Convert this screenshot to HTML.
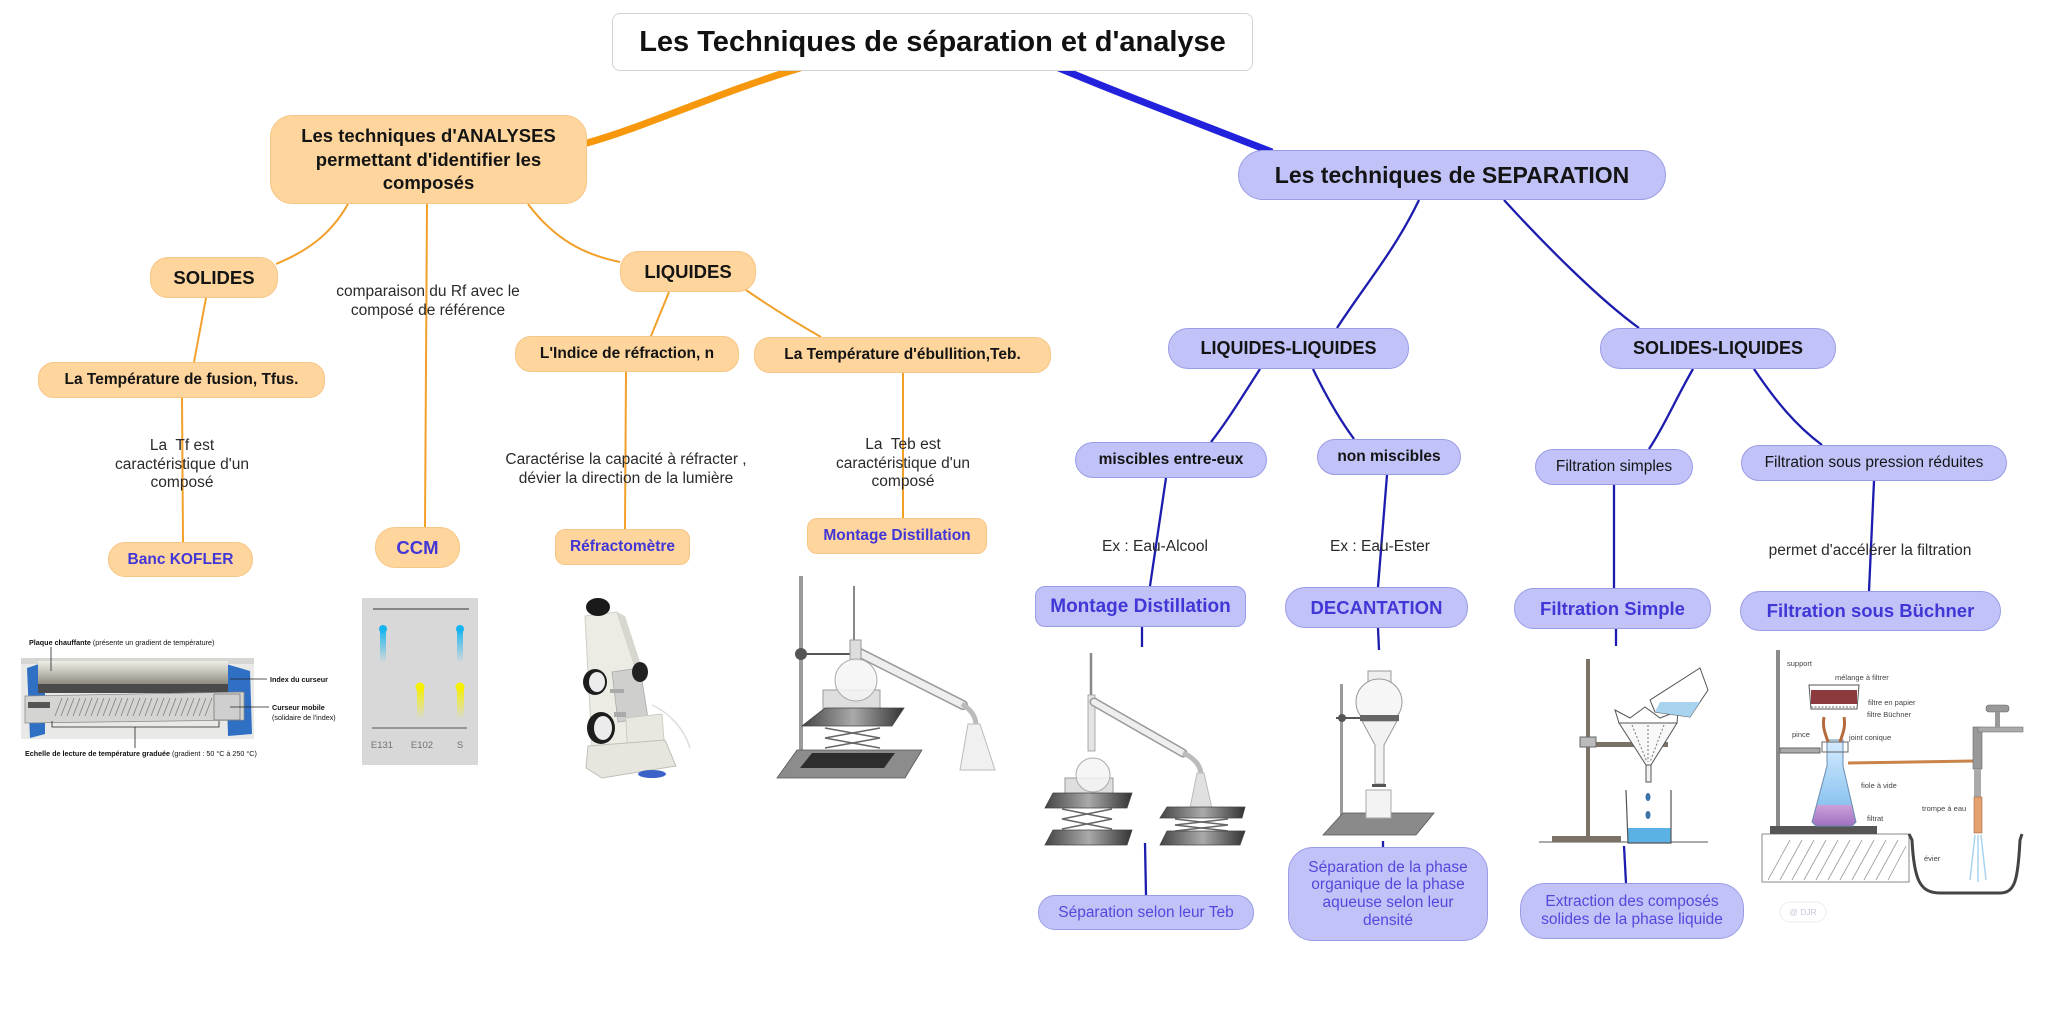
<!DOCTYPE html>
<html><head><meta charset="utf-8">
<style>
html,body{margin:0;padding:0;background:#fff;}
body{width:2048px;height:1034px;position:relative;overflow:hidden;font-family:"Liberation Sans",Arial,sans-serif;}
svg{position:absolute;left:0;top:0;}
.n{position:absolute;box-sizing:border-box;display:flex;align-items:center;justify-content:center;text-align:center;white-space:nowrap;}
.o{background:#fed59c;border:1px solid #f6c687;color:#141414;font-weight:bold;}
.l{background:#c1c3f8;border:1px solid #9a9ce6;color:#141414;}
.b{color:#4136d6;font-weight:bold;}
.bl{color:#5248dc;font-weight:normal;}
.lab{position:absolute;text-align:center;color:#2a2a2a;font-size:15.5px;line-height:18.5px;white-space:nowrap;transform:translateX(-50%);}
</style></head><body>
<svg width="2048" height="1034" viewBox="0 0 2048 1034" xmlns="http://www.w3.org/2000/svg">
<defs>
<linearGradient id="silver" x1="0" y1="0" x2="0" y2="1"><stop offset="0" stop-color="#efefe8"/><stop offset="0.6" stop-color="#b8b6aa"/><stop offset="1" stop-color="#8d8b80"/></linearGradient>
<linearGradient id="plate" x1="0" y1="0" x2="1" y2="0"><stop offset="0" stop-color="#444"/><stop offset="0.5" stop-color="#aaa"/><stop offset="1" stop-color="#333"/></linearGradient>
<linearGradient id="bt" x1="0" y1="0" x2="0" y2="1"><stop offset="0" stop-color="#19b6f0"/><stop offset="1" stop-color="#d8d8d8"/></linearGradient>
<linearGradient id="yt" x1="0" y1="0" x2="0" y2="1"><stop offset="0" stop-color="#f6f000"/><stop offset="1" stop-color="#d8d8d8"/></linearGradient>
<linearGradient id="flask" x1="0" y1="0" x2="0" y2="1"><stop offset="0" stop-color="#d6ecff"/><stop offset="0.75" stop-color="#8cc4f0"/><stop offset="0.76" stop-color="#c9a0d8"/><stop offset="1" stop-color="#a070c0"/></linearGradient>
</defs>

<!-- thick connectors -->
<path d="M587,143 C650,125 720,92 800,68 L840,52" fill="none" stroke="#f7980c" stroke-width="7" stroke-linecap="round"/>
<path d="M1040,60 C1110,90 1190,120 1272,152" fill="none" stroke="#2222dc" stroke-width="7"/>

<!-- orange thin connectors -->
<g fill="none" stroke="#f2a02a" stroke-width="2">
<path d="M348,204 C330,236 305,252 276,264"/>
<path d="M427,204 L425,527"/>
<path d="M528,204 C555,240 585,255 620,262"/>
<path d="M206,298 L194,362"/>
<path d="M182,398 L183,542"/>
<path d="M669,292 L651,336"/>
<path d="M746,290 C775,310 800,325 821,337"/>
<path d="M626,372 L625,529"/>
<path d="M903,373 L903,518"/>
</g>
<!-- blue thin connectors -->
<g fill="none" stroke="#1c1cae" stroke-width="2.3">
<path d="M1419,200 C1395,250 1365,285 1337,328"/>
<path d="M1504,200 C1545,245 1600,300 1639,328"/>
<path d="M1260,369 C1240,400 1228,420 1211,442"/>
<path d="M1313,369 C1328,400 1340,420 1354,439"/>
<path d="M1693,369 C1675,400 1665,425 1649,449"/>
<path d="M1754,369 C1775,400 1795,425 1822,445"/>
<path d="M1166,478 L1150,586"/>
<path d="M1142,627 L1142,647"/>
<path d="M1145,843 L1146,895"/>
<path d="M1387,475 L1378,587"/>
<path d="M1378,628 L1379,650"/>
<path d="M1383,841 L1383,847"/>
<path d="M1614,485 L1614,588"/>
<path d="M1616,629 L1616,646"/>
<path d="M1624,846 L1626,883"/>
<path d="M1874,481 L1869,591"/>
</g>

<!-- Kofler photo -->
<g>
<rect x="21" y="658" width="233" height="81" fill="#e9e9e7"/>
<rect x="21" y="658" width="233" height="6" fill="#d6d6d2"/>
<path d="M27,668 L45,662 L45,734 L30,738 Z" fill="#2f6fc4"/>
<path d="M226,664 L250,671 L252,734 L228,736 Z" fill="#2f6fc4"/>
<rect x="38" y="661" width="190" height="23" fill="url(#silver)"/>
<rect x="38" y="684" width="190" height="9" fill="#4a4a4a"/>
<polygon points="25,696 244,692 244,720 25,723" fill="#d4d4d2" stroke="#8a8a8a" stroke-width="0.8"/>
<g stroke="#777" stroke-width="0.7">
<line x1="55" y1="716" x2="62" y2="698"/><line x1="61" y1="716" x2="68" y2="698"/><line x1="67" y1="716" x2="74" y2="698"/><line x1="73" y1="716" x2="80" y2="698"/><line x1="79" y1="716" x2="86" y2="698"/><line x1="85" y1="716" x2="92" y2="698"/><line x1="91" y1="716" x2="98" y2="698"/><line x1="97" y1="716" x2="104" y2="698"/><line x1="103" y1="716" x2="110" y2="698"/><line x1="109" y1="716" x2="116" y2="698"/><line x1="115" y1="716" x2="122" y2="698"/><line x1="121" y1="716" x2="128" y2="698"/><line x1="127" y1="716" x2="134" y2="698"/><line x1="133" y1="716" x2="140" y2="698"/><line x1="139" y1="716" x2="146" y2="698"/><line x1="145" y1="716" x2="152" y2="698"/><line x1="151" y1="716" x2="158" y2="698"/><line x1="157" y1="716" x2="164" y2="698"/><line x1="163" y1="716" x2="170" y2="698"/><line x1="169" y1="716" x2="176" y2="698"/><line x1="175" y1="716" x2="182" y2="698"/><line x1="181" y1="716" x2="188" y2="698"/><line x1="187" y1="716" x2="194" y2="698"/><line x1="193" y1="716" x2="200" y2="698"/><line x1="199" y1="716" x2="206" y2="698"/><line x1="205" y1="716" x2="212" y2="698"/>
</g>
<rect x="28" y="702" width="22" height="6" fill="#555"/>
<rect x="214" y="694" width="26" height="26" fill="#cfcfcf" stroke="#777" stroke-width="0.8"/>
<g stroke="#222" stroke-width="0.8" fill="none">
<line x1="51" y1="647" x2="51" y2="671"/>
<line x1="230" y1="679" x2="267" y2="679"/>
<line x1="230" y1="707" x2="269" y2="707"/>
<polyline points="52,721 52,727 219,727 219,721"/>
<line x1="135" y1="727" x2="135" y2="748"/>
</g>
<g font-family="Liberation Sans,Arial,sans-serif" font-size="7.2" fill="#111">
<text x="29" y="645"><tspan font-weight="bold">Plaque chauffante</tspan> (présente un gradient de température)</text>
<text x="270" y="682" font-weight="bold">Index du curseur</text>
<text x="272" y="710" font-weight="bold">Curseur mobile</text>
<text x="272" y="720">(solidaire de l'index)</text>
<text x="25" y="756"><tspan font-weight="bold">Echelle de lecture de température graduée</tspan> (gradient : 50 °C à 250 °C)</text>
</g>
</g>

<!-- CCM plate -->
<g>
<rect x="362" y="598" width="116" height="167" fill="#d8d8d8"/>
<line x1="373" y1="609" x2="469" y2="609" stroke="#555" stroke-width="1.2"/>
<rect x="380" y="629" width="6" height="34" fill="url(#bt)"/>
<rect x="457" y="629" width="6" height="34" fill="url(#bt)"/>
<circle cx="383" cy="629" r="4" fill="#17b4f0"/>
<circle cx="460" cy="629" r="4" fill="#17b4f0"/>
<rect x="417" y="687" width="7" height="32" fill="url(#yt)"/>
<rect x="457" y="687" width="7" height="32" fill="url(#yt)"/>
<circle cx="420" cy="687" r="4.5" fill="#f6f000"/>
<circle cx="460" cy="687" r="4.5" fill="#f6f000"/>
<line x1="372" y1="728" x2="467" y2="728" stroke="#555" stroke-width="1"/>
<g font-family="Liberation Sans,Arial,sans-serif" font-size="9.5" fill="#707070" text-anchor="middle">
<text x="382" y="748">E131</text><text x="422" y="748">E102</text><text x="460" y="748">S</text>
</g>
</g>

<!-- Refractometer -->
<g>
<path d="M585,616 L617,612 L636,670 L648,720 L630,745 L592,748 Z" fill="#ecebe4" stroke="#cfcec6" stroke-width="1"/>
<path d="M617,612 L625,616 L642,668 L636,670 Z" fill="#d8d7cf"/>
<ellipse cx="598" cy="607" rx="12" ry="9" fill="#1a1a1a"/>
<path d="M612,672 L640,668 L648,718 L618,722 Z" fill="#cfcfcd" stroke="#aaa" stroke-width="0.8"/>
<path d="M626,718 L662,714 L666,765 L628,768 Z" fill="#e8e7e0" stroke="#c8c7c0" stroke-width="0.8"/>
<path d="M588,746 L665,740 L676,766 L602,778 L586,768 Z" fill="#e6e5de" stroke="#c0bfb8" stroke-width="1"/>
<ellipse cx="652" cy="774" rx="14" ry="4" fill="#3a62c8"/>
<ellipse cx="640" cy="672" rx="8" ry="10" fill="#222"/>
<ellipse cx="595" cy="682" rx="12" ry="13" fill="#1d1d1d"/>
<ellipse cx="597" cy="682" rx="8" ry="10" fill="#ececec"/>
<ellipse cx="601" cy="728" rx="14" ry="16" fill="#1d1d1d"/>
<ellipse cx="603" cy="728" rx="9" ry="12" fill="#ececec"/>
<rect x="610" y="689" width="14" height="4" fill="#aaa"/>
<rect x="614" y="712" width="12" height="5" fill="#aaa"/>
<path d="M652,705 C668,712 684,728 690,748" fill="none" stroke="#ddd" stroke-width="1.5"/>
</g>

<!-- Distillation left -->
<g>
<rect x="799" y="576" width="4" height="196" fill="#9a9a9a"/>
<line x1="795" y1="654" x2="858" y2="654" stroke="#555" stroke-width="2"/>
<circle cx="801" cy="654" r="6" fill="#555"/>
<line x1="854" y1="586" x2="854" y2="640" stroke="#888" stroke-width="2"/>
<path d="M858,652 L963,705" stroke="#999" stroke-width="10" stroke-linecap="round"/>
<path d="M858,652 L963,705" stroke="#eee" stroke-width="7" stroke-linecap="round"/>
<path d="M962,704 Q975,712 976,724" fill="none" stroke="#bbb" stroke-width="5"/>
<rect x="850" y="640" width="11" height="20" fill="#ddd" stroke="#999"/>
<rect x="823" y="690" width="57" height="30" fill="#dedede" stroke="#999"/>
<circle cx="856" cy="680" r="21" fill="#f5f5f5" fill-opacity="0.85" stroke="#aaa"/>
<polygon points="802,726 825,708 904,708 892,726" fill="url(#plate)" stroke="#444" stroke-width="0.8"/>
<g stroke="#666" stroke-width="1.5" fill="none"><path d="M825,728 L880,738 L825,748"/><path d="M880,728 L825,738 L880,748"/></g>
<polygon points="777,778 797,750 922,750 905,778" fill="#8c8c8c" stroke="#555" stroke-width="0.8"/>
<polygon points="800,768 812,753 895,753 884,768" fill="#2d2d2d"/>
<polygon points="968,724 980,724 995,770 960,770" fill="#f0f0f0" stroke="#bbb"/>
</g>

<!-- Distillation right -->
<g>
<line x1="1091" y1="653" x2="1091" y2="696" stroke="#888" stroke-width="2.5"/>
<rect x="1088" y="695" width="7" height="56" fill="#e4e4e4" stroke="#999" stroke-width="0.8"/>
<path d="M1094,702 L1183,753" stroke="#999" stroke-width="9" stroke-linecap="round"/>
<path d="M1094,702 L1183,753" stroke="#eee" stroke-width="6" stroke-linecap="round"/>
<path d="M1183,753 Q1199,760 1201,773" fill="none" stroke="#bbb" stroke-width="5"/>
<rect x="1065" y="778" width="48" height="20" fill="#dedede" stroke="#999"/>
<circle cx="1093" cy="775" r="17" fill="#f5f5f5" fill-opacity="0.85" stroke="#aaa"/>
<polygon points="1045,808 1053,793 1132,793 1127,808" fill="url(#plate)" stroke="#444" stroke-width="0.8"/>
<g stroke="#666" stroke-width="1.5" fill="none"><path d="M1062,809 L1112,819 L1062,829"/><path d="M1112,809 L1062,819 L1112,829"/></g>
<polygon points="1045,845 1053,830 1132,830 1127,845" fill="url(#plate)" stroke="#444" stroke-width="0.8"/>
<polygon points="1197,773 1204,773 1213,813 1189,813" fill="#e0e0e0" stroke="#bbb"/>
<polygon points="1160,818 1167,807 1245,807 1242,818" fill="url(#plate)" stroke="#444" stroke-width="0.8"/>
<g stroke="#666" stroke-width="1.5" fill="none"><path d="M1175,819 L1228,825 L1175,831"/><path d="M1228,819 L1175,825 L1228,831"/></g>
<polygon points="1160,845 1167,831 1245,831 1240,845" fill="url(#plate)" stroke="#444" stroke-width="0.8"/>
</g>

<!-- Decantation -->
<g>
<rect x="1340" y="684" width="3" height="136" fill="#9a9a9a"/>
<polygon points="1323,835 1343,813 1434,813 1416,835" fill="#8a8a8a" stroke="#555" stroke-width="0.8"/>
<line x1="1336" y1="718" x2="1398" y2="718" stroke="#555" stroke-width="2"/>
<circle cx="1342" cy="718" r="4" fill="#555"/>
<rect x="1368" y="671" width="23" height="13" fill="#eee" stroke="#999"/>
<circle cx="1379" cy="702" r="23" fill="#f6f6f6" stroke="#999"/>
<polygon points="1362,721 1397,721 1384,745 1384,784 1375,784 1375,745" fill="#f2f2f2" stroke="#999"/>
<rect x="1360" y="715" width="39" height="6" fill="#666"/>
<rect x="1372" y="784" width="14" height="3" fill="#555"/>
<rect x="1366" y="790" width="25" height="28" fill="#f3f3f3" stroke="#aaa"/>
</g>

<!-- Filtration simple -->
<g>
<line x1="1539" y1="842" x2="1708" y2="842" stroke="#777" stroke-width="1.2"/>
<rect x="1552" y="836" width="69" height="6" fill="#7a7266"/>
<rect x="1586" y="659" width="4" height="179" fill="#7a7266"/>
<rect x="1580" y="737" width="16" height="10" fill="#bbb" stroke="#666"/>
<rect x="1596" y="742" width="72" height="5" fill="#7a7266"/>
<polygon points="1619,723 1677,723 1651,765 1646,765" fill="#f8f8f8" stroke="#555"/>
<polygon points="1615,710 1630,718 1645,707 1660,718 1678,711 1677,723 1619,723" fill="#fff" stroke="#555"/>
<g stroke="#777" stroke-dasharray="2,2"><line x1="1632" y1="725" x2="1647" y2="762"/><line x1="1648" y1="725" x2="1648" y2="762"/><line x1="1664" y1="725" x2="1650" y2="762"/></g>
<rect x="1646" y="765" width="5" height="17" fill="#f2f2f2" stroke="#555"/>
<ellipse cx="1648" cy="797" rx="2.5" ry="4" fill="#3b74a8"/>
<ellipse cx="1648" cy="815" rx="2.5" ry="4" fill="#3b74a8"/>
<rect x="1628" y="828" width="43" height="15" fill="#5ab2e4"/>
<path d="M1626,790 L1628,843 L1671,843 L1671,790" fill="none" stroke="#555" stroke-width="1.2"/>
<polygon points="1650,700 1700,668 1708,690 1690,717 1655,712" fill="#fff" stroke="#555"/>
<polygon points="1655,712 1690,717 1700,702 1660,702" fill="#a8d4f0"/>
</g>

<!-- Buchner -->
<g font-family="Liberation Sans,Arial,sans-serif" font-size="7.5" fill="#444">
<rect x="1776" y="650" width="4" height="178" fill="#8a8a8a"/>
<rect x="1762" y="834" width="147" height="48" fill="#fff" stroke="#888"/>
<g stroke="#999" stroke-width="0.8"><line x1="1768" y1="880" x2="1790" y2="840"/><line x1="1780" y1="880" x2="1802" y2="840"/><line x1="1792" y1="880" x2="1814" y2="840"/><line x1="1804" y1="880" x2="1826" y2="840"/><line x1="1816" y1="880" x2="1838" y2="840"/><line x1="1828" y1="880" x2="1850" y2="840"/><line x1="1840" y1="880" x2="1862" y2="840"/><line x1="1852" y1="880" x2="1874" y2="840"/><line x1="1864" y1="880" x2="1886" y2="840"/><line x1="1876" y1="880" x2="1898" y2="840"/><line x1="1888" y1="880" x2="1906" y2="846"/></g>
<rect x="1770" y="826" width="107" height="8" fill="#555"/>
<path d="M1909,834 L1912,840 C1914,880 1920,893 1940,893 L2000,893 C2015,893 2018,880 2020,840 L2022,834" fill="none" stroke="#444" stroke-width="3"/>
<polygon points="1827,740 1843,740 1843,766 1856,822 1852,826 1816,826 1812,822 1827,766" fill="url(#flask)" stroke="#6a8cb0"/>
<rect x="1780" y="748" width="40" height="5" fill="#aaa" stroke="#666"/>
<rect x="1822" y="742" width="26" height="10" fill="none" stroke="#666"/>
<path d="M1824,717 C1822,728 1826,735 1828,742" fill="none" stroke="#b46a3c" stroke-width="3"/>
<path d="M1844,717 C1846,728 1842,735 1840,742" fill="none" stroke="#b46a3c" stroke-width="3"/>
<path d="M1809,685 L1859,685 L1857,709 L1811,709 Z" fill="#fff" stroke="#555"/>
<rect x="1811" y="690" width="46" height="14" fill="#8c3a3e"/>
<line x1="1811" y1="707" x2="1857" y2="707" stroke="#666" stroke-dasharray="2,1.5"/>
<line x1="1848" y1="763" x2="1973" y2="761" stroke="#c8844a" stroke-width="3"/>
<rect x="1973" y="727" width="9" height="42" fill="#999" stroke="#666" stroke-width="0.6"/>
<rect x="1978" y="727" width="45" height="5" fill="#aaa" stroke="#777" stroke-width="0.6"/>
<rect x="1986" y="705" width="23" height="7" rx="3" fill="#999" stroke="#666" stroke-width="0.6"/>
<rect x="1995" y="712" width="5" height="15" fill="#999"/>
<rect x="1974" y="769" width="7" height="28" fill="#aaa"/>
<rect x="1974" y="797" width="8" height="36" fill="#e4a070" stroke="#a06a40" stroke-width="0.6"/>
<path d="M1975,835 L1970,880 M1978,835 L1978,882 M1981,835 L1986,880" stroke="#a8d4f0" stroke-width="1.5"/>
<text x="1787" y="666">support</text>
<text x="1835" y="680">mélange à filtrer</text>
<text x="1868" y="705">filtre en papier</text>
<text x="1867" y="717">filtre Büchner</text>
<text x="1792" y="737">pince</text>
<text x="1849" y="740">joint conique</text>
<text x="1861" y="788">fiole à vide</text>
<text x="1922" y="811">trompe à eau</text>
<text x="1867" y="821">filtrat</text>
<text x="1924" y="861">évier</text>
<rect x="1780" y="902" width="46" height="20" rx="10" fill="#fff" stroke="#eee"/>
<text x="1803" y="915" text-anchor="middle" fill="#c8c8d8" font-size="8.5">@ DJR</text>
</g>
</svg>

<!-- Title -->
<div class="n" style="left:612px;top:13px;width:641px;height:58px;border:1px solid #d4d4d4;border-radius:8px;background:#fff;font-size:29px;font-weight:bold;color:#111;">Les Techniques de séparation et d'analyse</div>

<!-- orange nodes -->
<div class="n o" style="left:270px;top:115px;width:317px;height:89px;border-radius:22px;font-size:18.5px;line-height:23.5px;">Les techniques d'ANALYSES<br>permettant d'identifier les<br>composés</div>
<div class="n o" style="left:150px;top:257px;width:128px;height:41px;border-radius:18px;font-size:18.5px;">SOLIDES</div>
<div class="n o" style="left:620px;top:251px;width:136px;height:41px;border-radius:18px;font-size:18.5px;">LIQUIDES</div>
<div class="n o" style="left:38px;top:362px;width:287px;height:36px;border-radius:16px;font-size:15.5px;">La Température de fusion, Tfus.</div>
<div class="n o" style="left:515px;top:336px;width:224px;height:36px;border-radius:16px;font-size:15.5px;">L'Indice de réfraction, n</div>
<div class="n o" style="left:754px;top:337px;width:297px;height:36px;border-radius:16px;font-size:15.5px;">La Température d'ébullition,Teb.</div>
<div class="n o b" style="left:108px;top:542px;width:145px;height:35px;border-radius:17px;font-size:15.5px;">Banc KOFLER</div>
<div class="n o b" style="left:375px;top:527px;width:85px;height:41px;border-radius:20px;font-size:18.5px;">CCM</div>
<div class="n o b" style="left:555px;top:529px;width:135px;height:36px;border-radius:10px;font-size:15.5px;">Réfractomètre</div>
<div class="n o b" style="left:807px;top:518px;width:180px;height:36px;border-radius:10px;font-size:15.5px;">Montage Distillation</div>

<!-- lavender nodes -->
<div class="n l" style="left:1238px;top:150px;width:428px;height:50px;border-radius:25px;font-size:23px;font-weight:bold;">Les techniques de SEPARATION</div>
<div class="n l" style="left:1168px;top:328px;width:241px;height:41px;border-radius:20px;font-size:18px;font-weight:bold;">LIQUIDES-LIQUIDES</div>
<div class="n l" style="left:1600px;top:328px;width:236px;height:41px;border-radius:20px;font-size:18px;font-weight:bold;">SOLIDES-LIQUIDES</div>
<div class="n l" style="left:1075px;top:442px;width:192px;height:36px;border-radius:18px;font-size:15.5px;font-weight:bold;">miscibles entre-eux</div>
<div class="n l" style="left:1317px;top:439px;width:144px;height:36px;border-radius:18px;font-size:15.5px;font-weight:bold;">non miscibles</div>
<div class="n l" style="left:1535px;top:449px;width:158px;height:36px;border-radius:18px;font-size:15.5px;">Filtration simples</div>
<div class="n l" style="left:1741px;top:445px;width:266px;height:36px;border-radius:18px;font-size:15.5px;">Filtration sous pression réduites</div>
<div class="n l b" style="left:1035px;top:586px;width:211px;height:41px;border-radius:10px;font-size:19px;">Montage Distillation</div>
<div class="n l b" style="left:1285px;top:587px;width:183px;height:41px;border-radius:20px;font-size:18.5px;">DECANTATION</div>
<div class="n l b" style="left:1514px;top:588px;width:197px;height:41px;border-radius:20px;font-size:18.5px;">Filtration Simple</div>
<div class="n l b" style="left:1740px;top:591px;width:261px;height:40px;border-radius:20px;font-size:18.5px;">Filtration sous Büchner</div>
<div class="n l bl" style="left:1038px;top:895px;width:216px;height:35px;border-radius:17px;font-size:15.5px;">Séparation selon leur Teb</div>
<div class="n l bl" style="left:1288px;top:847px;width:200px;height:94px;border-radius:25px;font-size:15.5px;line-height:17.7px;">Séparation de la phase<br>organique de la phase<br>aqueuse selon leur<br>densité</div>
<div class="n l bl" style="left:1520px;top:883px;width:224px;height:56px;border-radius:25px;font-size:15.5px;line-height:18px;">Extraction des composés<br>solides de la phase liquide</div>

<!-- connector labels -->
<div class="lab" style="left:428px;top:283px;">comparaison du Rf avec le<br>composé de référence</div>
<div class="lab" style="left:182px;top:437px;">La&nbsp; Tf est<br>caractéristique d'un<br>composé</div>
<div class="lab" style="left:626px;top:451px;">Caractérise la capacité à réfracter ,<br>dévier la direction de la lumière</div>
<div class="lab" style="left:903px;top:436px;">La&nbsp; Teb est<br>caractéristique d'un<br>composé</div>
<div class="lab" style="left:1155px;top:538px;">Ex : Eau-Alcool</div>
<div class="lab" style="left:1380px;top:538px;">Ex : Eau-Ester</div>
<div class="lab" style="left:1870px;top:542px;">permet d'accélérer la filtration</div>
</body></html>
